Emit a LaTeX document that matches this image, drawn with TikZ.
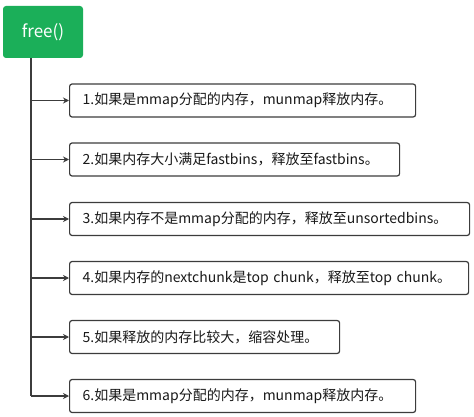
\documentclass[tikz,border=0pt]{standalone}
\usepackage{fontspec}
\setmainfont{Noto Sans CJK SC}
\usetikzlibrary{arrows.meta}
\definecolor{freegreen}{HTML}{1BAF59}
\definecolor{linegray}{HTML}{3C3C3C}
\begin{document}
\begin{tikzpicture}[x=1pt,y=-1pt,
  stepbox/.style={draw=linegray,line width=1.2pt,rounded corners=2.5pt,fill=white,
    anchor=west,minimum height=33pt,inner xsep=13pt,font=\fontsize{14pt}{16pt}\selectfont,text=black!90},
  conn/.style={draw=linegray,line width=1.8pt,-{Stealth[length=6pt,width=6pt]}}]
\useasboundingbox (0,0) rectangle (474,417);
\node[fill=freegreen,rounded corners=3pt,minimum width=80pt,minimum height=52pt,
  text=white,font=\fontsize{17pt}{20pt}\selectfont] (free) at (43,32) {free()};
\node[stepbox,text width=320pt] (b1) at (69,100.5) {1.如果是mmap分配的内存，munmap释放内存。};
\node[stepbox,text width=304pt] (b2) at (69,159.5) {2.如果内存大小满足fastbins，释放至fastbins。};
\node[stepbox,text width=374pt] (b3) at (69,219) {3.如果内存不是mmap分配的内存，释放至unsortedbins。};
\node[stepbox,text width=373pt] (b4) at (69,278) {4.如果内存的nextchunk是top chunk，释放至top chunk。};
\node[stepbox,text width=244pt] (b5) at (69,337) {5.如果释放的内存比较大，缩容处理。};
\node[stepbox,text width=320pt] (b6) at (69,396) {6.如果是mmap分配的内存，munmap释放内存。};
\coordinate (top) at (31,58);
\draw[draw=linegray,line width=1.8pt] (top) -- (31,396);
\foreach \b in {b1,b2,b3,b4,b5,b6}{
  \draw[conn] (top |- \b.west) -- (\b.west);
}
\end{tikzpicture}
\end{document}
